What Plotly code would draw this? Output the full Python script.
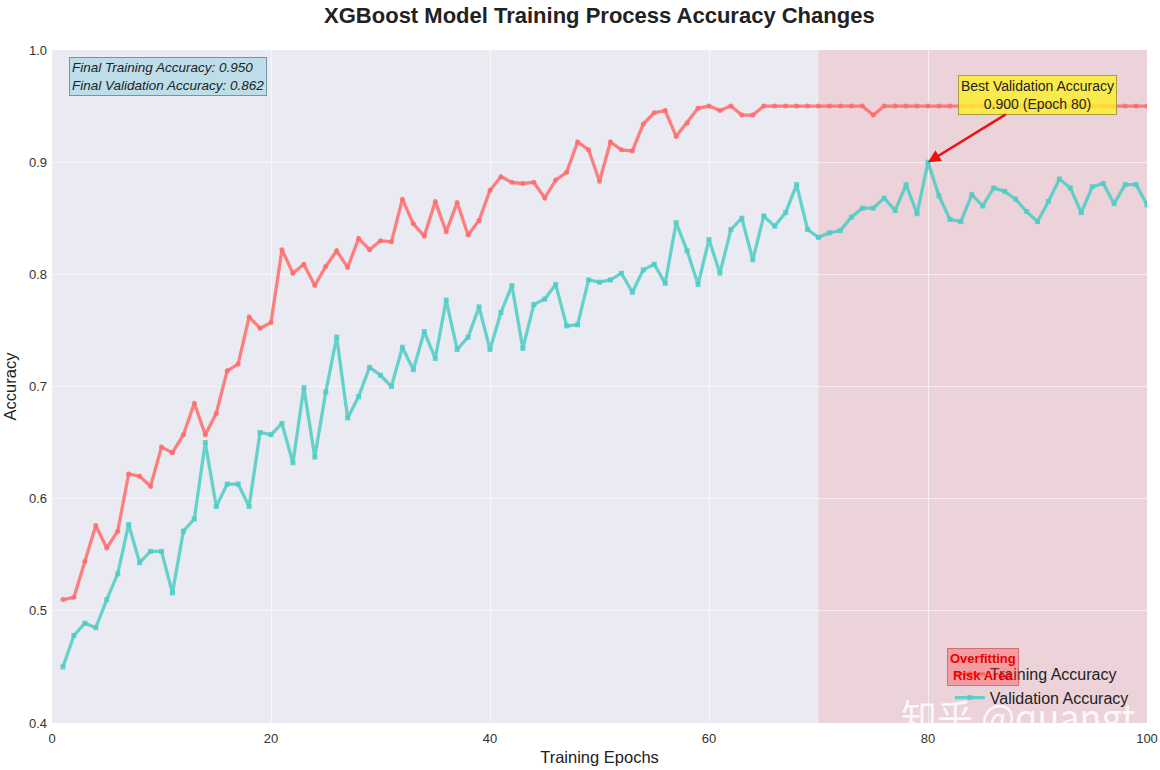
import plotly.graph_objects as go

epochs = list(range(1, 101))

train_acc = [
    0.510, 0.512, 0.544, 0.576, 0.556, 0.571, 0.622, 0.620, 0.611, 0.646,
    0.641, 0.657, 0.685, 0.657, 0.676, 0.714, 0.720, 0.762, 0.752, 0.757,
    0.822, 0.801, 0.809, 0.790, 0.807, 0.821, 0.806, 0.832, 0.822, 0.830,
    0.829, 0.867, 0.845, 0.834, 0.865, 0.838, 0.864, 0.835, 0.848, 0.875,
    0.887, 0.882, 0.881, 0.882, 0.868, 0.884, 0.891, 0.918, 0.911, 0.883,
    0.918, 0.911, 0.910, 0.934, 0.944, 0.946, 0.923, 0.935, 0.948, 0.950,
    0.946, 0.950, 0.942, 0.942, 0.950, 0.950, 0.950, 0.950, 0.950, 0.950,
    0.950, 0.950, 0.950, 0.950, 0.942, 0.950, 0.950, 0.950, 0.950, 0.950,
    0.950, 0.950, 0.950, 0.950, 0.950, 0.950, 0.950, 0.950, 0.950, 0.950,
    0.950, 0.950, 0.950, 0.950, 0.950, 0.950, 0.950, 0.950, 0.950, 0.950,
]

val_acc = [
    0.450, 0.478, 0.489, 0.485, 0.510, 0.533, 0.577, 0.543, 0.553, 0.553,
    0.516, 0.571, 0.582, 0.650, 0.593, 0.613, 0.613, 0.593, 0.659, 0.657,
    0.667, 0.632, 0.699, 0.637, 0.695, 0.744, 0.672, 0.691, 0.717, 0.710,
    0.700, 0.735, 0.715, 0.749, 0.725, 0.777, 0.733, 0.744, 0.771, 0.733,
    0.766, 0.790, 0.734, 0.773, 0.778, 0.791, 0.754, 0.755, 0.795, 0.793,
    0.795, 0.801, 0.784, 0.804, 0.809, 0.792, 0.846, 0.821, 0.791, 0.831,
    0.801, 0.840, 0.850, 0.813, 0.852, 0.843, 0.855, 0.880, 0.840, 0.833,
    0.837, 0.839, 0.851, 0.859, 0.859, 0.868, 0.857, 0.880, 0.854, 0.900,
    0.870, 0.849, 0.847, 0.871, 0.861, 0.877, 0.874, 0.867, 0.856, 0.847,
    0.865, 0.885, 0.877, 0.855, 0.878, 0.881, 0.863, 0.880, 0.880, 0.862,
]

x_ticks = [0, 20, 40, 60, 80, 100]
y_ticks = [0.4, 0.5, 0.6, 0.7, 0.8, 0.9, 1.0]
overfit_start, overfit_end = 70, 100

best_idx = max(range(len(val_acc)), key=lambda i: val_acc[i])
best_epoch = epochs[best_idx]
best_val = val_acc[best_idx]

FONT = "Liberation Sans, Arial, sans-serif"

fig = go.Figure()

fig.add_trace(go.Scatter(
    x=epochs, y=train_acc, mode="lines+markers", name="Training Accuracy",
    line=dict(color="rgba(255,107,107,0.85)", width=3.3),
    marker=dict(symbol="circle", size=5, color="rgba(255,107,107,0.85)"),
))
fig.add_trace(go.Scatter(
    x=epochs, y=val_acc, mode="lines+markers", name="Validation Accuracy",
    line=dict(color="rgba(78,205,196,0.85)", width=3.3),
    marker=dict(symbol="square", size=5, color="rgba(78,205,196,0.85)"),
))

fig.add_shape(type="rect", xref="x", yref="paper", x0=overfit_start, x1=overfit_end,
              y0=0, y1=1, fillcolor="rgba(255,0,0,0.1)", line=dict(width=0), layer="below")

fig.add_annotation(
    x=best_epoch, y=best_val, xref="x", yref="y",
    ax=best_epoch + 10, ay=0.96, axref="x", ayref="y",
    text="Best Validation Accuracy<br>0.900 (Epoch 80)",
    showarrow=True, arrowhead=2, arrowsize=1, arrowwidth=2.5, arrowcolor="#EE1111",
    font=dict(family=FONT, size=14, color="#222"),
    bgcolor="rgba(255,240,40,0.8)", bordercolor="rgba(150,140,40,0.8)", borderwidth=1, borderpad=2,
    align="center",
)

fig.add_annotation(
    x=0.0155, y=0.989, xref="paper", yref="paper", xanchor="left", yanchor="top",
    text="<i>Final Training Accuracy: 0.950<br>Final Validation Accuracy: 0.862</i>",
    showarrow=False, align="left",
    font=dict(family=FONT, size=13.5, color="#222"),
    bgcolor="rgba(173,216,230,0.75)", bordercolor="rgba(90,130,150,0.8)", borderwidth=1, borderpad=2,
)

fig.add_annotation(
    x=85, y=0.45, xref="x", yref="y",
    text="<b>Overfitting<br>Risk Area</b>", showarrow=False, align="center",
    font=dict(family=FONT, size=13, color="#EE0000"),
    bgcolor="rgba(255,60,60,0.35)", bordercolor="rgba(200,60,60,0.6)", borderwidth=1, borderpad=2,
)

fig.add_annotation(
    x=0.992, y=-0.03, xref="paper", yref="paper", xanchor="right", yanchor="bottom",
    text="知乎 @quangt", showarrow=False,
    font=dict(family="Noto Sans CJK SC, sans-serif", size=36, color="rgba(255,255,255,0.85)"),
)

fig.update_layout(
    width=1160, height=770,
    margin=dict(l=52, r=13, t=50, b=47, autoexpand=False),
    paper_bgcolor="white", plot_bgcolor="#EAEAF2",
    title=dict(text="<b>XGBoost Model Training Process Accuracy Changes</b>",
               x=0.5167, xanchor="center", y=0.9805, yanchor="middle",
               font=dict(family=FONT, size=22, color="#222")),
    font=dict(family=FONT, size=13, color="#333"),
    legend=dict(x=0.988, y=0.012, xanchor="right", yanchor="bottom",
                bgcolor="rgba(0,0,0,0)", font=dict(family=FONT, size=16, color="#222"),
                itemwidth=30),
    showlegend=True,
)

fig.update_xaxes(range=[0, 100], tickvals=x_ticks, ticktext=[str(v) for v in x_ticks],
                 showgrid=True, gridcolor="rgba(255,255,255,0.6)", gridwidth=1, zeroline=False,
                 showline=False, ticks="", automargin=False, ticklabelstandoff=6,
                 title=dict(text="Training Epochs", font=dict(size=16.5, color="#222"), standoff=6))
fig.update_yaxes(range=[0.4, 1.0], tickvals=y_ticks, ticktext=[f"{v:.1f}" for v in y_ticks],
                 showgrid=True, gridcolor="rgba(255,255,255,0.6)", gridwidth=1, zeroline=False,
                 showline=False, ticks="", automargin=False, ticklabelstandoff=4,
                 title=dict(text="Accuracy", font=dict(size=16.5, color="#222"), standoff=8))

fig.write_html("out.html")
